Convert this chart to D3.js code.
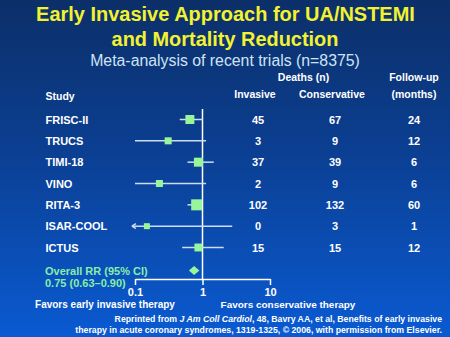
<!DOCTYPE html>
<html><head><meta charset="utf-8">
<script src="https://cdn.jsdelivr.net/npm/d3@7"></script>
<style>html,body{margin:0;padding:0;background:#0b3470;}svg{display:block;}</style>
</head><body>
<script>
// ---- data ----
const studies = ["FRISC-II","TRUCS","TIMI-18","VINO","RITA-3","ISAR-COOL","ICTUS"];
const rr = [0.65, 0.31, 0.87, 0.23, 0.82, 0.15, 0.87];
const ciLow = [0.46, 0.10, 0.60, 0.10, 0.60, 0.09, 0.50];
const ciHigh = [1.01, 1.13, 1.47, 1.13, 1.00, 2.76, 2.06];
const weight = [18, 11, 18, 11, 27, 8, 14];
const invasive = [45, 3, 37, 2, 102, 0, 15];
const conservative = [67, 9, 39, 9, 132, 3, 15];
const followUp = [24, 12, 6, 6, 60, 1, 12];
const overallRR = 0.75, overallLow = 0.63, overallHigh = 0.90;
const tickValues = [0.1, 1, 10];
const tickLabels = ["0.1", "1", "10"];

const W = 450, H = 337;
const svg = d3.select("body").append("svg").attr("width", W).attr("height", H);
const defs = svg.append("defs");
const grad = defs.append("linearGradient").attr("id","bg").attr("x1",0).attr("y1",0).attr("x2",0).attr("y2",1);
grad.append("stop").attr("offset","0%").attr("stop-color","#0c2f68");
grad.append("stop").attr("offset","45%").attr("stop-color","#0b3f92");
grad.append("stop").attr("offset","100%").attr("stop-color","#0a5ad2");
svg.append("rect").attr("width",W).attr("height",H).attr("fill","url(#bg)");

const FONT = "'Liberation Sans', Arial, Helvetica, sans-serif";
function fit(t, size, target) {
  const w = t.node().getComputedTextLength();
  if (w > 0) t.attr("font-size", size * target / w);
  return t;
}
function txt(x, y, s, o) {
  o = o || {};
  const t = svg.append("text").attr("x", x).attr("y", y).text(s)
    .attr("font-family", FONT)
    .attr("font-size", o.size || 11)
    .attr("font-weight", o.weight || "bold")
    .attr("fill", o.fill || "#ffffff")
    .attr("text-anchor", o.anchor || "start");
  if (o.len) fit(t, o.size || 11, o.len);
  return t;
}

// titles
txt(225.5, 21, "Early Invasive Approach for UA/NSTEMI", {size: 20, fill: "#f2f230", anchor: "middle", len: 379});
txt(225, 45.5, "and Mortality Reduction", {size: 20, fill: "#f2f230", anchor: "middle", len: 227});
txt(225, 65.5, "Meta-analysis of recent trials (n=8375)", {size: 14, weight: "normal", fill: "#cfe3f5", anchor: "middle", len: 270});

// headers
const colInv = 258, colCon = 335, colFol = 414;
txt(303.5, 81, "Deaths (n)", {size: 10.5, anchor: "middle"});
txt(colFol, 81, "Follow-up", {size: 10.5, anchor: "middle"});
txt(45.5, 100, "Study", {size: 10.5});
txt(colInv - 3, 98, "Invasive", {size: 10.5, anchor: "middle"});
txt(colCon - 3, 98, "Conservative", {size: 10.5, anchor: "middle"});
txt(colFol, 98, "(months)", {size: 10.5, anchor: "middle"});

// scales
const x = d3.scaleLog().domain([0.1, 10]).range([135, 270]);
const y = d3.scalePoint().domain(studies).range([119.5, 247.5]);
const size = d3.scaleSqrt().domain([0, 27]).range([0, 11]);

// reference line at 1
svg.append("line").attr("x1", x(1)).attr("x2", x(1)).attr("y1", 109).attr("y2", 279)
  .attr("stroke", "#ffffff").attr("stroke-width", 1.5);

// CI lines
const g = svg.append("g");
studies.forEach((s, i) => {
  const yy = y(s);
  const lo = ciLow[i];
  const x1 = x(lo), x2 = x(ciHigh[i]);
  g.append("line").attr("x1", x1).attr("x2", x2).attr("y1", yy).attr("y2", yy)
    .attr("stroke", "#cddcf2").attr("stroke-width", 1.5);
  if (lo < 0.1) {
    g.append("path").attr("d", `M${x1},${yy} l4,-2.5 M${x1},${yy} l4,2.5`)
      .attr("stroke", "#cddcf2").attr("stroke-width", 1.3).attr("fill", "none");
  }
  const sz = size(weight[i]);
  g.append("rect").attr("x", x(rr[i]) - sz/2).attr("y", yy - sz/2).attr("width", sz).attr("height", sz)
    .attr("fill", "#98f59a");
  txt(45.5, yy + 4, s, {size: 11});
  txt(colInv, yy + 4, String(invasive[i]), {size: 11, anchor: "middle"});
  txt(colCon, yy + 4, String(conservative[i]), {size: 11, anchor: "middle"});
  txt(colFol, yy + 4, String(followUp[i]), {size: 11, anchor: "middle"});
});

// overall diamond
const yO = 270.5;
g.append("path")
  .attr("d", `M${x(overallLow)},${yO} L${x(overallRR)},${yO-4.5} L${x(overallHigh)},${yO} L${x(overallRR)},${yO+4.5} Z`)
  .attr("fill", "#98f59a");
txt(45, 275, "Overall RR (95% CI)", {size: 11, fill: "#86eea6"});
txt(45, 286.5, "0.75 (0.63\u20130.90)", {size: 11, fill: "#86eea6"});

// axis
const axis = svg.append("g").attr("transform", "translate(0,279)")
  .call(d3.axisBottom(x).tickValues(tickValues).tickFormat((d, i) => tickLabels[i]).tickSize(6).tickSizeOuter(0));
axis.select(".domain").attr("stroke", "#ffffff").attr("stroke-width", 1.5);
axis.selectAll(".tick line").attr("stroke", "#ffffff").attr("stroke-width", 1.5);
axis.selectAll(".tick text").attr("fill", "#ffffff").attr("font-family", FONT)
  .attr("font-size", 11).attr("font-weight", "bold");

txt(105, 307.5, "Favors early invasive therapy", {size: 11, anchor: "middle", len: 140});
txt(288, 307.5, "Favors conservative therapy", {size: 11, anchor: "middle", len: 135});

// footnote
const f1 = svg.append("text").attr("x", 442).attr("y", 321.5).attr("text-anchor", "end")
  .attr("font-family", FONT).attr("font-size", 9.5).attr("font-weight", "bold").attr("fill", "#ffffff");
f1.append("tspan").text("Reprinted from ");
f1.append("tspan").attr("font-style", "italic").text("J Am Coll Cardiol");
f1.append("tspan").text(", 48, Bavry AA, et al, Benefits of early invasive");
fit(f1, 9.5, 328);
txt(442, 332.5, "therapy in acute coronary syndromes, 1319-1325, \u00a9 2006, with permission from Elsevier.", {size: 9.5, anchor: "end", len: 367});
</script>
</body></html>
